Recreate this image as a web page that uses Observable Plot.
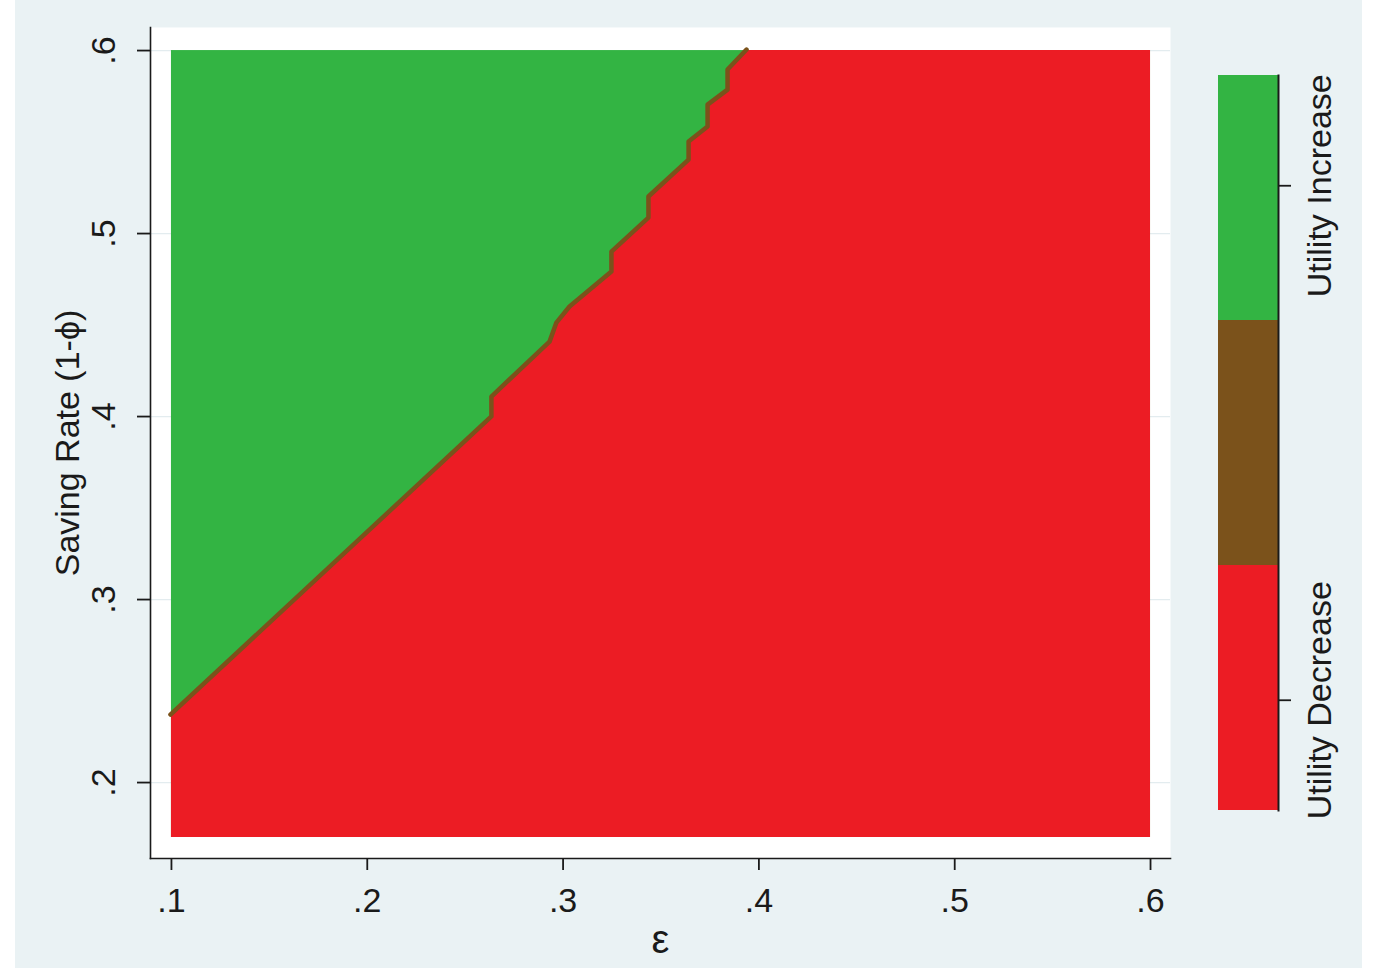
<!DOCTYPE html>
<html><head><meta charset="utf-8">
<script src="https://cdn.jsdelivr.net/npm/d3@7"></script>
<script src="https://cdn.jsdelivr.net/npm/@observablehq/plot@0.6"></script>
<style>
html,body{margin:0;padding:0;overflow:hidden;}
body{width:1373px;height:968px;position:relative;background:linear-gradient(to right,#fff 0,#fff 15px,#EAF2F4 15px,#EAF2F4 1362px,#fff 1362px);font-family:'Liberation Sans',Arial,sans-serif;}
#main,#legend{position:absolute;top:0;}
#main{left:0}
#legend{left:1190px}
</style></head><body>
<div id="main"></div><div id="legend"></div>
<script>
// ---- data ----
const epsBoundary    = [0.1, 0.2639, 0.2639, 0.2936, 0.2971, 0.3038, 0.3252, 0.3252, 0.3441, 0.3441, 0.3646, 0.3646, 0.3743, 0.3743, 0.3845, 0.3845, 0.3942];
const savingBoundary = [0.2366, 0.3995, 0.4104, 0.4404, 0.4508, 0.4596, 0.4787, 0.4896, 0.5082, 0.5197, 0.5399, 0.5497, 0.5579, 0.5699, 0.5781, 0.5891, 0.6];
const epsRange = [0.1, 0.6];
const savingRange = [0.17, 0.6];
const xTicks = [0.1, 0.2, 0.3, 0.4, 0.5, 0.6];
const xTickLabels = [".1", ".2", ".3", ".4", ".5", ".6"];
const yTicks = [0.2, 0.3, 0.4, 0.5, 0.6];
const yTickLabels = [".2", ".3", ".4", ".5", ".6"];
const legendCuts = [0, 1/3, 2/3, 1];
const legendColors = ["#EC1C24", "#7B521B", "#33B443"];
const legendTicks = [0.15, 0.85];
const legendLabels = ["Utility Decrease", "Utility Increase"];

const GREEN = "#33B443", RED = "#EC1C24", BROWN = "#7B521B";
const FONT = "'Liberation Sans', Arial, sans-serif";

const boundary = epsBoundary.map((e, i) => ({eps: e, s: savingBoundary[i]}));
const redArea = [...boundary, {eps: epsRange[1], s: savingRange[1]}];
const region = [{x1: epsRange[0], x2: epsRange[1], y1: savingRange[0], y2: savingRange[1]}];

const main = Plot.plot({
  width: 1373, height: 968,
  marginLeft: 150, marginRight: 203, marginTop: 27, marginBottom: 110,
  x: {domain: [0.0893, 0.6102]},
  y: {domain: [0.1585, 0.6126]},
  style: {background: "transparent", fontFamily: FONT, color: "#1a1a1a"},
  marks: [
    Plot.frame({fill: "white", stroke: null}),
    Plot.ruleY(yTicks, {y: d => d, stroke: "#E3ECEF", strokeWidth: 1.2}),
    Plot.rect(region, {x1: "x1", x2: "x2", y1: "y1", y2: "y2", fill: GREEN}),
    Plot.areaY(redArea, {x: "eps", y1: () => savingRange[0], y2: "s", fill: RED, curve: "linear"}),
    Plot.line(boundary, {x: "eps", y: "s", stroke: BROWN, strokeWidth: 4.5, dy: -1, dx: -1, curve: "linear"}),
    Plot.frame({anchor: "left", stroke: "#1a1a1a", strokeWidth: 1.6}),
    Plot.frame({anchor: "bottom", stroke: "#1a1a1a", strokeWidth: 1.6}),
    Plot.axisX({ticks: xTicks, tickSize: 12, tickFormat: () => "", label: null, strokeWidth: 1.8}),
    Plot.axisY({ticks: yTicks, tickSize: 13, tickFormat: () => "", label: null, strokeWidth: 1.8}),
    Plot.text(xTicks, {x: d => d, text: (d, i) => xTickLabels[i], frameAnchor: "bottom", dy: 43, fontSize: 34, lineAnchor: "middle", textAnchor: "middle"}),
    Plot.text(yTicks, {y: d => d, text: (d, i) => yTickLabels[i], frameAnchor: "left", dx: -46, rotate: -90, fontSize: 34, lineAnchor: "middle", textAnchor: "middle"}),
    Plot.text(["Saving Rate (1-ϕ)"], {text: d => d, frameAnchor: "left", dx: -82, rotate: -90, fontSize: 34, lineAnchor: "middle", textAnchor: "middle"}),
    Plot.text(["ε"], {text: d => d, frameAnchor: "bottom", dy: 82, fontSize: 40, lineAnchor: "middle", textAnchor: "middle"})
  ]
});
document.getElementById("main").append(main);

const levels = legendColors.map((c, i) => ({lo: legendCuts[i], hi: legendCuts[i + 1], color: c}));
const legend = Plot.plot({
  width: 183, height: 968,
  marginLeft: 28, marginRight: 95, marginTop: 75, marginBottom: 158,
  y: {domain: [0, 1]},
  color: {type: "identity"},
  style: {background: "transparent", fontFamily: FONT, color: "#1a1a1a"},
  marks: [
    Plot.rect(levels, {y1: "lo", y2: "hi", fill: "color"}),
    Plot.frame({anchor: "right", stroke: "#1a1a1a", strokeWidth: 2}),
    Plot.axisY({anchor: "right", ticks: legendTicks, tickSize: 12, tickFormat: () => "", label: null, strokeWidth: 1.8}),
    Plot.text(legendTicks, {y: d => d, text: (d, i) => legendLabels[i], frameAnchor: "right", dx: 42, rotate: -90, fontSize: 34, lineAnchor: "middle", textAnchor: "middle"})
  ]
});
document.getElementById("legend").append(legend);
</script></body></html>
